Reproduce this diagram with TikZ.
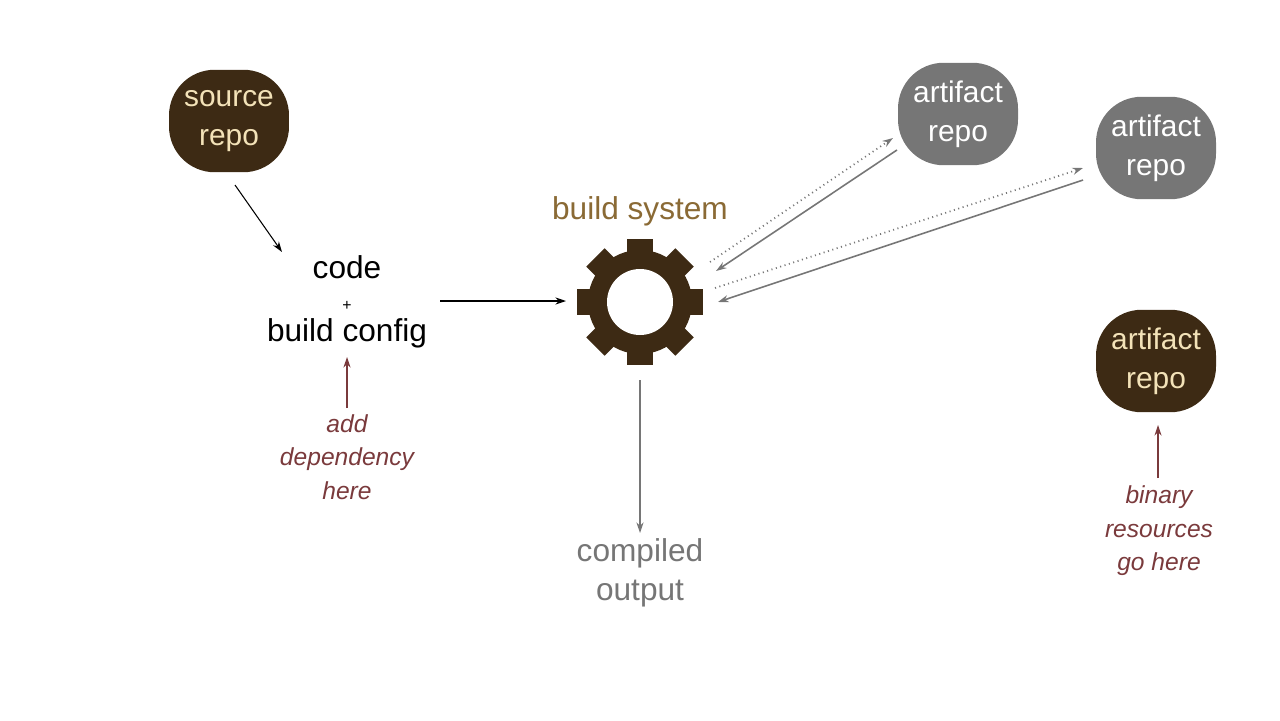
\documentclass[tikz,border=0pt]{standalone}
\usepackage{fontspec}
\setmainfont{Liberation Sans}
\usetikzlibrary{arrows.meta}
\definecolor{dbrown}{HTML}{3D2A14}
\definecolor{gold}{HTML}{8A6A35}
\definecolor{cream}{HTML}{F3E2B8}
\definecolor{note}{HTML}{7A3A3C}
\definecolor{gr}{HTML}{767676}
\tikzset{
  repo/.style={rounded corners=26, minimum width=2.4cm, minimum height=2.05cm, align=center, font=\fontsize{17}{22}\selectfont, inner sep=0pt},
  brownrepo/.style={repo, fill=dbrown, text=cream},
  grayrepo/.style={repo, fill=gr, text=white},
  lbl/.style={align=center, font=\fontsize{18}{22}\selectfont},
  notel/.style={align=center, text=note, font=\fontsize{14}{19}\selectfont\itshape},
  arr/.style={-{Stealth[length=6pt,width=4pt]}, line width=0.6pt},
}
\begin{document}
\begin{tikzpicture}[x=0.02cm,y=-0.02cm]
\useasboundingbox (0,0) rectangle (1280,720);
\node[brownrepo] (src) at (229,121) {source\\repo};
\node[grayrepo] (a1) at (958,114) {artifact\\repo};
\node[grayrepo] (a2) at (1156,148) {artifact\\repo};
\node[brownrepo] (a3) at (1156,361) {artifact\\repo};
\node[lbl, inner sep=0pt] (code) at (347,302) {code\\[-4pt]{\fontsize{9}{10}\selectfont +}\\[-4pt]build config};
\node[lbl, text=gold] (bs) at (640,211) {build system};
\node[lbl, text=gr] (out) at (640,573) {compiled\\output};
\node[notel] (dep) at (347,457) {add\\dependency\\here};
\node[notel] (bin) at (1159,531) {binary\\resources\\go here};
% gear
\coordinate (g) at (640,302);
\begin{scope}[shift={(g)}]
  \foreach \a in {0,45,...,315}
    \fill[dbrown, rotate=\a] (-13,-63) rectangle (13,0);
  \fill[dbrown] (0,0) circle (52);
  \fill[white] (0,0) circle (33);
\end{scope}
\node[minimum size=2.6cm, inner sep=0pt] (gear) at (g) {};
% connectors
\coordinate (s1) at (235,185); \coordinate (s2) at (282,252);
\draw[arr] (s1) -- (s2);
\coordinate (c1) at (440,301); \coordinate (c2) at (566,301);
\draw[arr] (c1) -- (c2);
\coordinate (o1) at (640,380); \coordinate (o2) at (640,533);
\draw[arr, gr] (o1) -- (o2);
\coordinate (d1) at (347,408); \coordinate (d2) at (347,357);
\draw[arr, note] (d1) -- (d2);
\coordinate (b1) at (1158,478); \coordinate (b2) at (1158,425);
\draw[arr, note] (b1) -- (b2);
\coordinate (p1) at (710,262); \coordinate (p2) at (893,138);
\draw[arr, gr, dotted, line width=1pt] (p1) -- (p2);
\coordinate (q1) at (897,150); \coordinate (q2) at (716,271);
\draw[arr, gr, line width=0.9pt] (q1) -- (q2);
\coordinate (r1) at (715,288); \coordinate (r2) at (1083,168);
\draw[arr, gr, dotted, line width=1pt] (r1) -- (r2);
\coordinate (t1) at (1083,180); \coordinate (t2) at (718,302);
\draw[arr, gr, line width=0.9pt] (t1) -- (t2);
\end{tikzpicture}
\end{document}
